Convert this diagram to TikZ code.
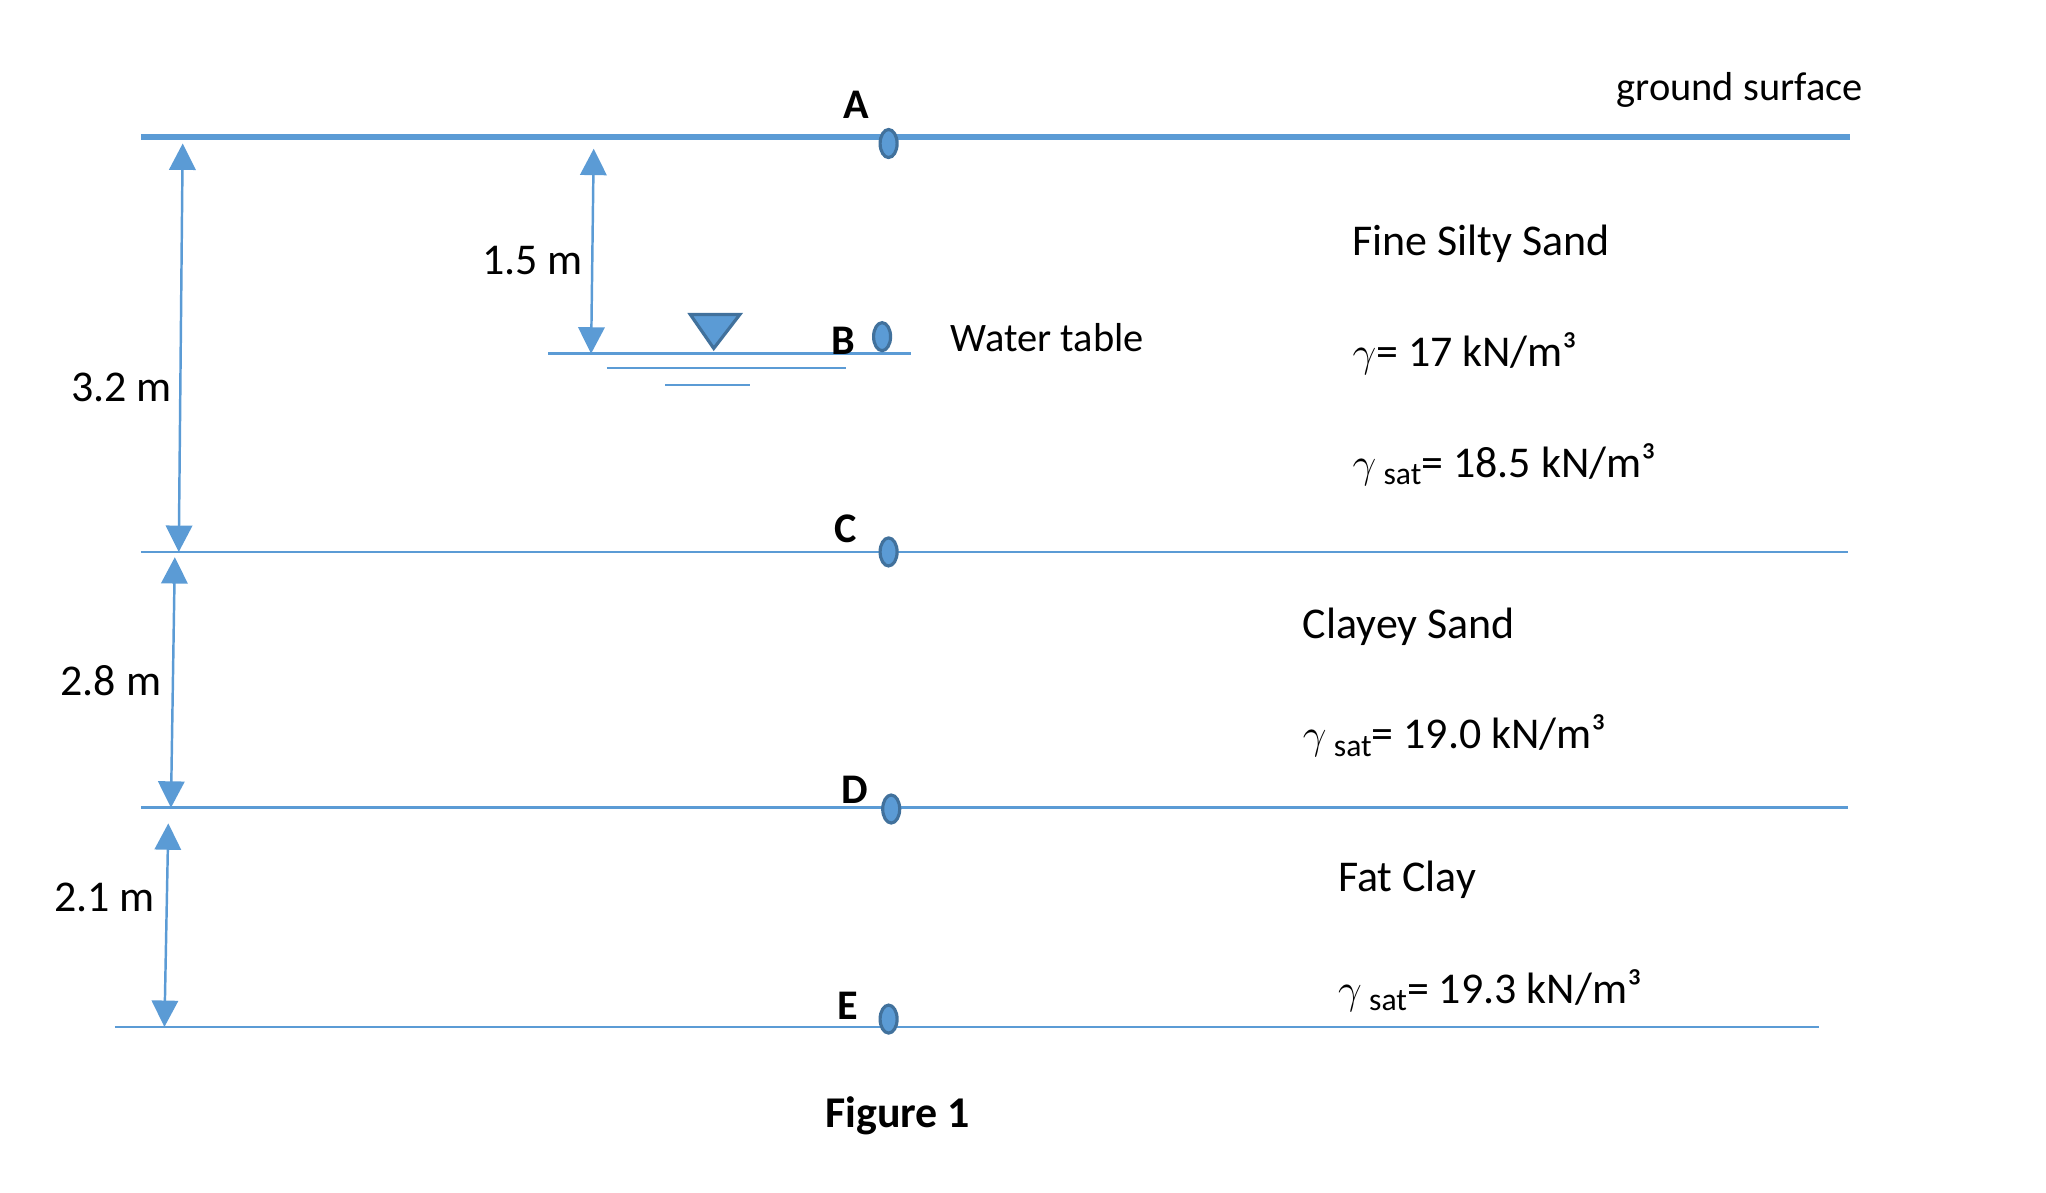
\documentclass[tikz,border=0pt]{standalone}
\usepackage{fontspec}
\setmainfont{Carlito}
\usetikzlibrary{arrows.meta,shapes.geometric}
\definecolor{soilblue}{RGB}{91,155,213}
\definecolor{soildark}{RGB}{65,113,156}
\tikzset{
  layer/.style={soilblue,line width=0.7pt},
  dimarrow/.style={soilblue,line width=0.7pt,{Triangle[width=7.5pt,length=7.5pt]}-{Triangle[width=7.5pt,length=7.5pt]}},
  pt/.style={ellipse,fill=soilblue,draw=soildark,line width=0.9pt,inner sep=0pt,minimum width=0.17cm,minimum height=0.28cm},
  txt/.style={font=\fontsize{12.5}{15}\selectfont,inner sep=0pt},
  smalltxt/.style={font=\fontsize{11.5}{14}\selectfont,inner sep=0pt},
  ptlbl/.style={font=\bfseries\fontsize{12}{14}\selectfont,inner sep=0pt}
}
\newcommand{\gsat}{$\gamma$\,\raisebox{-0.35ex}{\fontsize{9}{10}\selectfont sat}}
\begin{document}
\begin{tikzpicture}[x=0.013048cm,y=-0.013048cm]
        \useasboundingbox (0,0) rectangle (1568,914);
        %% Layer boundaries
        \draw[soilblue,line width=1.5pt] (108,105) -- (1418,105);
        \draw[layer] (108,423) -- (1416,423);
        \draw[layer] (108,619) -- (1416,619);
        \draw[layer] (88,787) -- (1394,787);
        %% Water table
        \draw[layer] (420,271) -- (698,271);
        \draw[layer] (465,282) -- (648,282);
        \draw[layer] (510,295) -- (575,295);
        \filldraw[fill=soilblue,draw=soildark,line width=0.9pt] (529,241) -- (567,241) -- (547,267) -- cycle;
        %% Points
        \node[pt] (pA) at (681,110) {};
        \node[pt] (pB) at (676,258) {};
        \node[pt] (pC) at (681,423) {};
        \node[pt] (pD) at (683,620) {};
        \node[pt] (pE) at (681,781) {};
        \node[ptlbl] (A) at (656,80) {A};
        \node[ptlbl] (B) at (646,261) {B};
        \node[ptlbl] (C) at (648,405) {C};
        \node[ptlbl] (D) at (655,605) {D};
        \node[ptlbl] (E) at (650,771) {E};
        %% Depths
        \coordinate (d1a) at (140,110); \coordinate (d1b) at (137,423);
        \coordinate (d2a) at (134,427); \coordinate (d2b) at (131,619);
        \coordinate (d3a) at (129,631); \coordinate (d3b) at (126,787);
        \coordinate (wta) at (455,114); \coordinate (wtb) at (453,271);
        \draw[dimarrow] (d1a) -- (d1b);
        \draw[dimarrow] (d2a) -- (d2b);
        \draw[dimarrow] (d3a) -- (d3b);
        \draw[dimarrow] (wta) -- (wtb);
        \node[txt] (h1) at (93,297) {3.2 m};
        \node[txt] (h2) at (85,522) {2.8 m};
        \node[txt] (h3) at (80,688) {2.1 m};
        \node[txt] (hw) at (408,200) {1.5 m};
        %% Labels
        \node[smalltxt,anchor=east] (gs) at (1428,69) {ground surface};
        \node[smalltxt,anchor=west] (wt) at (728,259) {Water table};
        \node[txt,anchor=west] (s1) at (1036,187) {Fine Silty Sand};
        \node[txt,anchor=west] (g1) at (1036,271) {$\gamma$= 17 kN/m³};
        \node[txt,anchor=west] (g1s) at (1036,356) {\gsat= 18.5 kN/m³};
        \node[txt,anchor=west] (s2) at (998,480) {Clayey Sand};
        \node[txt,anchor=west] (g2s) at (998,564) {\gsat= 19.0 kN/m³};
        \node[txt,anchor=west] (s3) at (1025,674) {Fat Clay};
        \node[txt,anchor=west] (g3s) at (1025,759) {\gsat= 19.3 kN/m³};
        \node[txt,font=\bfseries\fontsize{12.5}{15}\selectfont] (fig) at (688,855) {Figure 1};
    \end{tikzpicture}
\end{document}
